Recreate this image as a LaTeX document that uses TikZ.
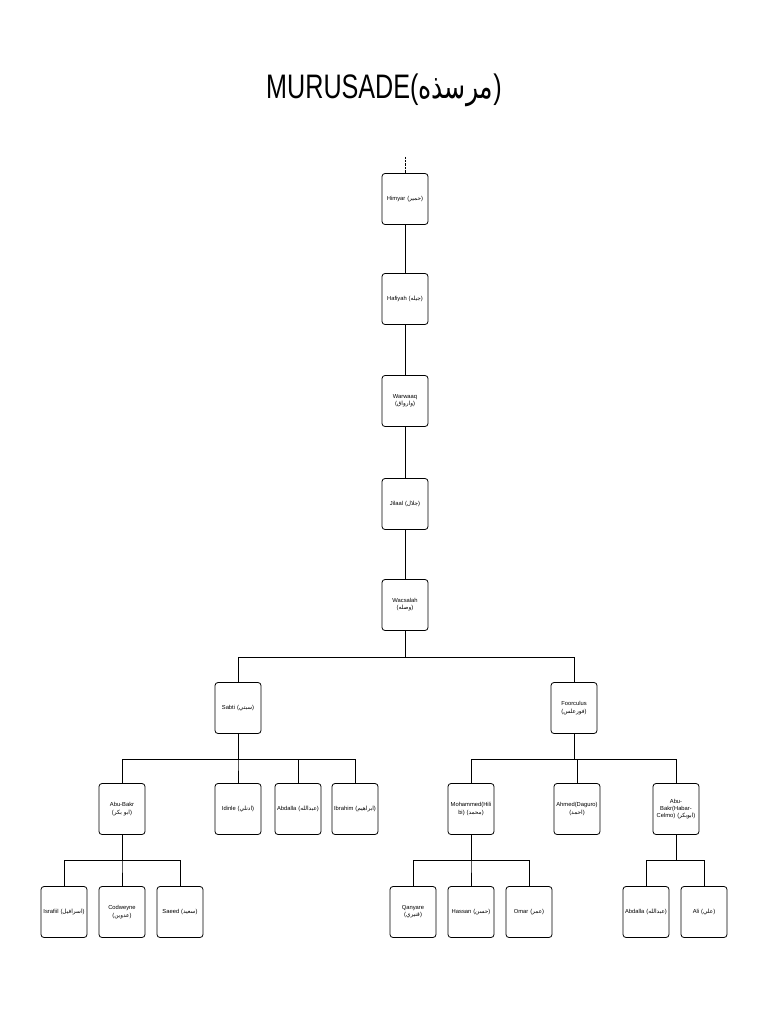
\documentclass[tikz,border=0pt]{standalone}
\usepackage{fontspec}
\setmainfont{Liberation Sans}
\newfontfamily\ar[Script=Arabic]{DejaVu Sans}
\TeXXeTstate=1
\newcommand{\AR}[1]{({\ar\beginR #1\endR})}
\begin{document}
\begin{tikzpicture}[x=1pt,y=-1pt,
  pbox/.style={draw,thick,rounded corners=3pt,minimum width=46pt,minimum height=51pt,text width=42pt,align=center,font=\fontsize{5.8}{7.2}\selectfont,inner sep=1pt,fill=white},
  ln/.style={thick}]
\useasboundingbox (0,0) rectangle (768,1024);
\node[font=\fontsize{34}{38}\selectfont,xscale=0.74] (title) at (384,90) {MURUSADE\AR{مرسذه}};
\node[pbox] (himyar) at (405,199) {Himyar \AR{حمير}};
\node[pbox] (hafiyah) at (405,299) {Hafiyah \AR{جيله}};
\node[pbox] (warwaaq) at (405,401) {Warwaaq \AR{وارواق}};
\node[pbox] (jilaal) at (405,504) {Jilaal \AR{جلال}};
\node[pbox] (wacsalah) at (405,605) {Wacsalah \AR{وصله}};
\coordinate (top) at (405,157);
\draw[densely dotted] (top) -- (himyar);
\draw[ln] (himyar) -- (hafiyah) (hafiyah) -- (warwaaq) (warwaaq) -- (jilaal) (jilaal) -- (wacsalah);
\node[pbox] (sabti) at (238,708) {Sabti \AR{سبتي}};
\node[pbox] (foor) at (574,708) {Foorculus \AR{فورعلس}};
\node[pbox] (abubakr) at (122,809) {Abu-Bakr \AR{ابو بكر}};
\node[pbox] (idinle) at (238,809) {Idinle \AR{ادنلي}};
\node[pbox] (abdalla) at (298,809) {Abdalla \AR{عبدالله}};
\node[pbox] (ibrahim) at (355,809) {Ibrahim \AR{ابراهيم}};
\node[pbox] (moh) at (471,809) {Mohammed(Hili bi) \AR{محمد}};
\node[pbox] (ahmed) at (577,809) {Ahmed(Daguro) \AR{احمد}};
\node[pbox] (abub2) at (676,809) {Abu-Bakr(Habar-Celmo) \AR{ابوبكر}};
\node[pbox] (isra) at (64,912) {Israfiil \AR{اسرافيل}};
\node[pbox] (cod) at (122,912) {Codweyne \AR{عدوين}};
\node[pbox] (saeed) at (180,912) {Saeed \AR{سعيد}};
\node[pbox] (qan) at (413,912) {Qanyare \AR{قنيري}};
\node[pbox] (hassan) at (471,912) {Hassan \AR{حسن}};
\node[pbox] (omar) at (529,912) {Omar \AR{عمر}};
\node[pbox] (abd2) at (646,912) {Abdalla \AR{عبدالله}};
\node[pbox] (ali) at (704,912) {Ali \AR{علي}};
\begin{scope}[ln]
\foreach \p/\c/\y in {wacsalah/sabti/657, wacsalah/foor/657,
  sabti/abubakr/759, sabti/idinle/759, sabti/abdalla/759, sabti/ibrahim/759,
  foor/moh/759, foor/ahmed/759, foor/abub2/759,
  abubakr/isra/860, abubakr/cod/860, abubakr/saeed/860,
  moh/qan/860, moh/hassan/860, moh/omar/860,
  abub2/abd2/860, abub2/ali/860}
  {\draw (\p.south) -- (\p.south |- 0,\y) -| (\c.north);}
\end{scope}
\end{tikzpicture}
\end{document}
